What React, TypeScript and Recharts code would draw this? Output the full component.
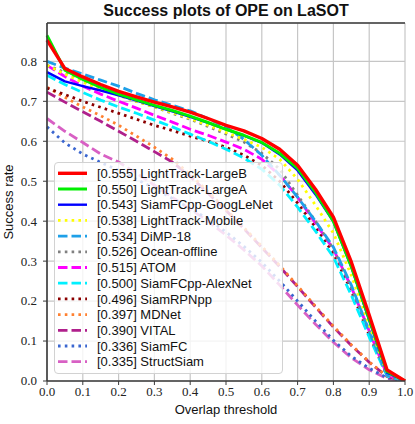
import React from "react";
import {
  LineChart,
  Line,
  XAxis,
  YAxis,
  CartesianGrid,
  Legend,
  ReferenceLine,
} from "recharts";

// overlap thresholds (x)
const thresholds = [
  0, 0.05, 0.1, 0.15, 0.2, 0.25, 0.3, 0.35, 0.4, 0.45, 0.5, 0.55, 0.6, 0.65,
  0.7, 0.75, 0.8, 0.85, 0.9, 0.95, 1,
];

// success rate per tracker
const largeB = [0.853, 0.782, 0.761, 0.742, 0.725, 0.711, 0.698, 0.686, 0.673, 0.657, 0.64, 0.626, 0.607, 0.58, 0.54, 0.48, 0.41, 0.298, 0.165, 0.0275, 0];
const largeA = [0.865, 0.778, 0.755, 0.735, 0.718, 0.704, 0.69, 0.677, 0.663, 0.647, 0.63, 0.615, 0.597, 0.57, 0.532, 0.472, 0.4, 0.287, 0.155, 0.024, 0];
const googLeNet = [0.773, 0.75, 0.738, 0.727, 0.715, 0.702, 0.688, 0.675, 0.661, 0.646, 0.63, 0.614, 0.596, 0.567, 0.527, 0.467, 0.399, 0.285, 0.152, 0.021, 0];
const mobile = [0.79, 0.768, 0.748, 0.73, 0.715, 0.7, 0.686, 0.672, 0.657, 0.64, 0.622, 0.605, 0.585, 0.555, 0.505, 0.44, 0.37, 0.265, 0.14, 0.02, 0];
const dimp18 = [0.8, 0.783, 0.768, 0.753, 0.738, 0.72, 0.704, 0.69, 0.676, 0.657, 0.635, 0.605, 0.565, 0.515, 0.46, 0.4, 0.335, 0.24, 0.125, 0.015, 0];
const oceanOffline = [0.79, 0.772, 0.752, 0.733, 0.716, 0.7, 0.686, 0.67, 0.655, 0.637, 0.618, 0.598, 0.57, 0.53, 0.465, 0.4, 0.33, 0.235, 0.125, 0.015, 0];
const atom = [0.79, 0.762, 0.738, 0.718, 0.7, 0.683, 0.665, 0.648, 0.63, 0.615, 0.598, 0.58, 0.555, 0.515, 0.46, 0.395, 0.33, 0.235, 0.125, 0.015, 0];
const alexNet = [0.765, 0.742, 0.722, 0.703, 0.686, 0.67, 0.653, 0.636, 0.618, 0.6, 0.58, 0.558, 0.53, 0.49, 0.435, 0.375, 0.31, 0.215, 0.11, 0.012, 0];
const rpnpp = [0.733, 0.717, 0.7, 0.685, 0.67, 0.655, 0.64, 0.627, 0.613, 0.6, 0.585, 0.565, 0.54, 0.5, 0.445, 0.385, 0.32, 0.225, 0.115, 0.013, 0];
const mdnet = [0.735, 0.71, 0.686, 0.664, 0.64, 0.613, 0.585, 0.555, 0.517, 0.474, 0.43, 0.384, 0.337, 0.289, 0.238, 0.187, 0.137, 0.091, 0.048, 0.012, 0];
const vital = [0.723, 0.698, 0.674, 0.65, 0.625, 0.6, 0.574, 0.548, 0.512, 0.47, 0.427, 0.381, 0.334, 0.286, 0.236, 0.185, 0.135, 0.089, 0.047, 0.011, 0];
const siamFC = [0.636, 0.596, 0.568, 0.547, 0.527, 0.505, 0.482, 0.457, 0.432, 0.405, 0.373, 0.337, 0.297, 0.25, 0.2, 0.15, 0.102, 0.062, 0.032, 0.008, 0];
const structSiam = [0.657, 0.625, 0.597, 0.568, 0.548, 0.52, 0.49, 0.46, 0.43, 0.4, 0.365, 0.328, 0.288, 0.24, 0.19, 0.142, 0.097, 0.058, 0.028, 0.006, 0];

const xTicks = [0, 0.1, 0.2, 0.3, 0.4, 0.5, 0.6, 0.7, 0.8, 0.9, 1];
const yTicks = [0, 0.1, 0.2, 0.3, 0.4, 0.5, 0.6, 0.7, 0.8];
const Y_MAX = 0.896;

const SOLID = undefined;
const DASH = "9.5 4";
const DOT = "2.6 4.2";

const series = [
  { key: "largeB", name: "[0.555] LightTrack-LargeB", values: largeB, color: "#ff0000", dash: SOLID, width: 3.4 },
  { key: "largeA", name: "[0.550] LightTrack-LargeA", values: largeA, color: "#00ee00", dash: SOLID, width: 3 },
  { key: "googLeNet", name: "[0.543] SiamFCpp-GoogLeNet", values: googLeNet, color: "#0000ff", dash: SOLID, width: 2.4 },
  { key: "mobile", name: "[0.538] LightTrack-Mobile", values: mobile, color: "#ffff00", dash: DOT, width: 2.8 },
  { key: "dimp18", name: "[0.534] DiMP-18", values: dimp18, color: "#1ea0e8", dash: DASH, width: 2.8 },
  { key: "ocean", name: "[0.526] Ocean-offline", values: oceanOffline, color: "#808080", dash: DOT, width: 2.8 },
  { key: "atom", name: "[0.515] ATOM", values: atom, color: "#ff00ff", dash: DASH, width: 2.8 },
  { key: "alexNet", name: "[0.500] SiamFCpp-AlexNet", values: alexNet, color: "#00f0ff", dash: DASH, width: 2.8 },
  { key: "rpnpp", name: "[0.496] SiamRPNpp", values: rpnpp, color: "#8b0000", dash: DOT, width: 2.8 },
  { key: "mdnet", name: "[0.397] MDNet", values: mdnet, color: "#ff8030", dash: DOT, width: 2.8 },
  { key: "vital", name: "[0.390] VITAL", values: vital, color: "#b0208c", dash: DASH, width: 2.8 },
  { key: "siamFC", name: "[0.336] SiamFC", values: siamFC, color: "#3a66d0", dash: DOT, width: 2.8 },
  { key: "structSiam", name: "[0.335] StructSiam", values: structSiam, color: "#d860c4", dash: DASH, width: 2.8 },
];

const rows = thresholds.map((t, i) => {
  const row: Record<string, number> = { t };
  series.forEach((s) => {
    row[s.key] = s.values[i];
  });
  return row;
});

const FRAME = "#3a3a3a";
const SANS = "'Liberation Sans', Arial, sans-serif";
const SERIF = "'Liberation Serif', 'Times New Roman', serif";

function LegendBox() {
  const rowH = 15.7;
  return (
    <div
      style={{
        width: 229,
        height: 212,
        boxSizing: "border-box",
        border: "1px solid #d2d2d2",
        borderRadius: 4,
        background: "rgba(255,255,255,0.8)",
      }}
    >
      <svg width={229} height={212} style={{ display: "block", marginLeft: -1, marginTop: -1 }}>
        {series.map((s, i) => {
          const y = 11.3 + rowH * i;
          return (
            <g key={s.key}>
              <line x1={4} x2={33} y1={y} y2={y} stroke={s.color} strokeWidth={s.width} strokeDasharray={s.dash} />
              <text x={43} y={y + 4.6} style={{ fontFamily: SANS, fontSize: 13 }} fill="#111">
                {s.name}
              </text>
            </g>
          );
        })}
      </svg>
    </div>
  );
}

const tickStyle = { fontFamily: SERIF, fontSize: 13 };

const XTick = (props: any) => {
  const { x, y, payload } = props;
  return (
    <text x={x} y={y + 9.5} textAnchor="middle" style={tickStyle} fill="#222">
      {Number(payload.value).toFixed(1)}
    </text>
  );
};

const YTick = (props: any) => {
  const { x, y, payload } = props;
  return (
    <text x={x} y={y + 4.4} textAnchor="end" style={tickStyle} fill="#222">
      {Number(payload.value).toFixed(1)}
    </text>
  );
};

const renderXLabel = (props: any) => {
  const vb = props.viewBox || { x: 47, width: 358 };
  return (
    <text x={vb.x + vb.width / 2} y={414} textAnchor="middle" style={{ fontFamily: SANS, fontSize: 13 }} fill="#111">
      Overlap threshold
    </text>
  );
};

// y-axis title plus the chart title above the plot
const renderYLabel = (props: any) => {
  const vb = props.viewBox || { y: 23, height: 358 };
  const cy = vb.y + vb.height / 2;
  return (
    <g>
      <text
        x={12.5}
        y={cy}
        transform={`rotate(-90, 12.5, ${cy})`}
        textAnchor="middle"
        style={{ fontFamily: SANS, fontSize: 13 }}
        fill="#111"
      >
        Success rate
      </text>
      <text x={226} y={15.5} textAnchor="middle" style={{ fontFamily: SANS, fontSize: 16, fontWeight: "bold" }} fill="#111">
        Success plots of OPE on LaSOT
      </text>
    </g>
  );
};

export default function App() {
  return (
    <div style={{ position: "absolute", left: 0, top: 0, background: "#fff", fontFamily: SERIF }}>
      <LineChart width={415} height={424} data={rows} margin={{ top: 23, right: 10, bottom: 5, left: 7 }}>
        <CartesianGrid stroke="#c6c6c6" strokeWidth={1.2} />
        <XAxis
          dataKey="t"
          type="number"
          domain={[0, 1]}
          ticks={xTicks}
          height={38}
          tickSize={4}
          tickMargin={1}
          axisLine={{ stroke: FRAME, strokeWidth: 1.6 }}
          tickLine={{ stroke: FRAME, strokeWidth: 1 }}
          tick={XTick}
          label={{ content: renderXLabel }}
        />
        <YAxis
          type="number"
          domain={[0, Y_MAX]}
          ticks={yTicks}
          allowDataOverflow
          width={40}
          tickSize={4}
          tickMargin={6}
          axisLine={{ stroke: FRAME, strokeWidth: 1.6 }}
          tickLine={{ stroke: FRAME, strokeWidth: 1 }}
          tick={YTick}
          label={{ content: renderYLabel }}
        />
        <YAxis
          yAxisId="right"
          orientation="right"
          type="number"
          domain={[0, Y_MAX]}
          allowDataOverflow
          width={0}
          tick={false}
          tickLine={false}
          axisLine={{ stroke: FRAME, strokeWidth: 1.6 }}
        />
        {series
          .slice()
          .reverse()
          .map((s) => (
            <Line
              key={s.key}
              dataKey={s.key}
              name={s.name}
              stroke={s.color}
              strokeWidth={s.width}
              strokeDasharray={s.dash}
              strokeLinejoin="round"
              dot={false}
              activeDot={false}
              isAnimationActive={false}
            />
          ))}
        <ReferenceLine y={Y_MAX} stroke={FRAME} strokeWidth={1.6} />
        <Legend
          layout="vertical"
          align="center"
          verticalAlign="middle"
          content={() => <LegendBox />}
          wrapperStyle={{ left: 54, top: 161.5, width: 229, height: 212 }}
        />
      </LineChart>
    </div>
  );
}
